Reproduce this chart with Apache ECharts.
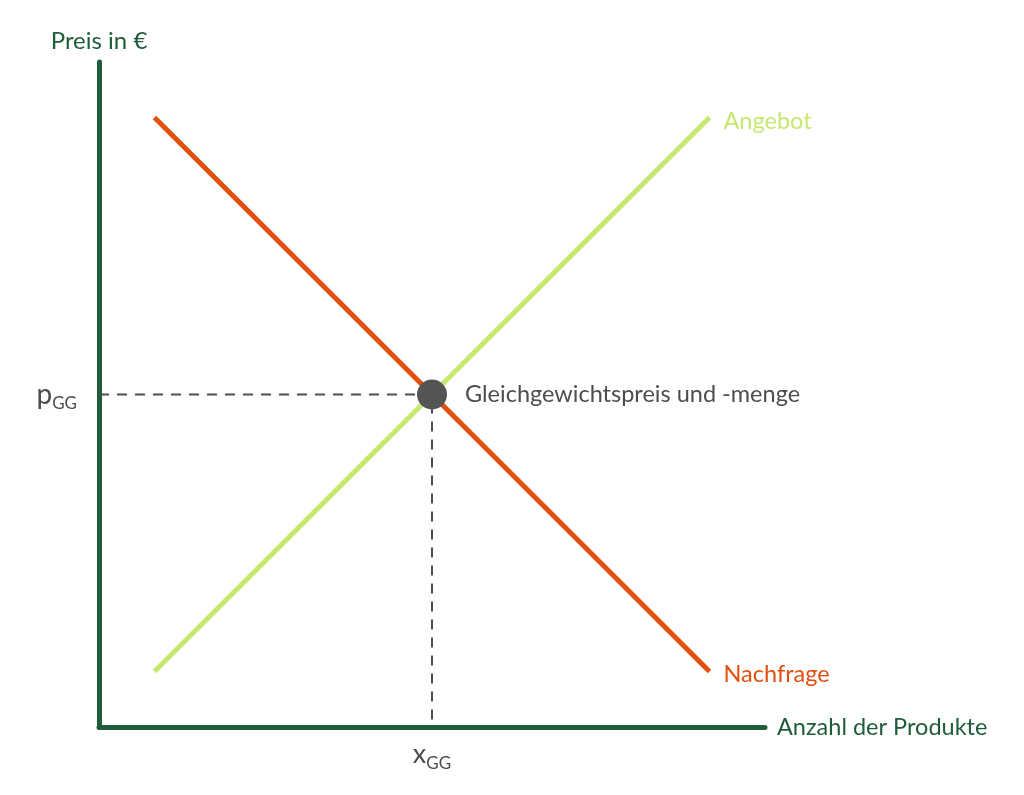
<!DOCTYPE html>
<html>
<head>
<meta charset="utf-8">
<script src="https://cdn.jsdelivr.net/npm/echarts@6/dist/echarts.min.js"></script>
<style>
html,body{margin:0;padding:0;background:#fff;}
#chart{width:1024px;height:795px;}
</style>
</head>
<body>
<div id="chart"></div>
<script>
// Data (abstract units)
const angebotX = [1, 11];
const angebotY = [1, 11];
const nachfrageX = [1, 11];
const nachfrageY = [11, 1];
const equilibrium = [6, 6];
const seriesNames = ['Angebot', 'Nachfrage'];
const xTickLabel = { main: 'x', sub: 'GG' };
const yTickLabel = { main: 'p', sub: 'GG' };
const axisNames = { x: 'Anzahl der Produkte', y: 'Preis in €' };
const equilibriumLabel = 'Gleichgewichtspreis und -menge';

const FONT = 'Lato';
const AXIS_COLOR = '#1f5c3a';
const GRAY = '#4d4d4d';

const chart = echarts.init(document.getElementById('chart'));
const zip = (xs, ys) => xs.map((x, i) => [x, ys[i]]);

chart.setOption({
  animation: false,
  textStyle: { fontFamily: FONT },
  grid: { left: 99, right: 259, top: 62, bottom: 68 },
  xAxis: {
    type: 'value', min: 0, max: 12,
    name: axisNames.x, nameLocation: 'end', nameGap: 12,
    nameTextStyle: { color: AXIS_COLOR, fontSize: 23.5, fontFamily: FONT, verticalAlign: 'middle', padding: [4,0,0,0] },
    axisLine: { show: true, lineStyle: { color: AXIS_COLOR, width: 5 } },
    axisTick: { show: false },
    splitLine: { show: false },
    axisLabel: {
      show: true, customValues: [equilibrium[0]], margin: 14,
      formatter: () => '{m|' + xTickLabel.main + '}{s|' + xTickLabel.sub + '}',
      rich: {
        m: { fontSize: 27, color: GRAY, fontFamily: FONT, verticalAlign: 'bottom' },
        s: { fontSize: 17, color: GRAY, fontFamily: FONT, verticalAlign: 'bottom', padding: [0,0,-4,0] }
      }
    }
  },
  yAxis: {
    type: 'value', min: 0, max: 12,
    name: axisNames.y, nameLocation: 'end', nameGap: 9,
    nameTextStyle: { color: AXIS_COLOR, fontSize: 24, fontFamily: FONT, align: 'center' },
    axisLine: { show: true, lineStyle: { color: AXIS_COLOR, width: 5 } },
    axisTick: { show: false },
    splitLine: { show: false },
    axisLabel: {
      show: true, customValues: [equilibrium[1]], margin: 22,
      formatter: () => '{m|' + yTickLabel.main + '}{s|' + yTickLabel.sub + '}',
      rich: {
        m: { fontSize: 28, color: GRAY, fontFamily: FONT, verticalAlign: 'bottom' },
        s: { fontSize: 17, color: GRAY, fontFamily: FONT, verticalAlign: 'bottom', padding: [0,0,-4,0] }
      }
    }
  },
  series: [
    {
      name: 'guides', type: 'line', silent: true, symbol: 'none',
      data: [[0, equilibrium[1]], equilibrium, [equilibrium[0], 0]],
      lineStyle: { color: GRAY, width: 2, type: [10, 8] },
      z: 1
    },
    {
      name: seriesNames[1], type: 'line', symbol: 'none',
      data: zip(nachfrageX, nachfrageY),
      lineStyle: { color: '#e2500f', width: 5 },
      endLabel: { show: true, formatter: '{a}', color: '#e2500f', fontSize: 23.5, fontFamily: FONT, distance: 14, offset: [0, 3] },
      z: 2
    },
    {
      name: seriesNames[0], type: 'line', symbol: 'none',
      data: zip(angebotX, angebotY),
      lineStyle: { color: '#c6e86e', width: 5 },
      endLabel: { show: true, formatter: '{a}', color: '#c6e86e', fontSize: 23.5, fontFamily: FONT, distance: 14, offset: [0, 4] },
      z: 2
    },
    {
      name: 'eq', type: 'scatter', symbolSize: 30,
      data: [equilibrium],
      itemStyle: { color: '#555555', opacity: 1 },
      label: { show: true, position: 'right', distance: 18, formatter: equilibriumLabel, color: GRAY, fontSize: 23.5, fontFamily: FONT },
      z: 5
    }
  ]
});
</script>
</body>
</html>
